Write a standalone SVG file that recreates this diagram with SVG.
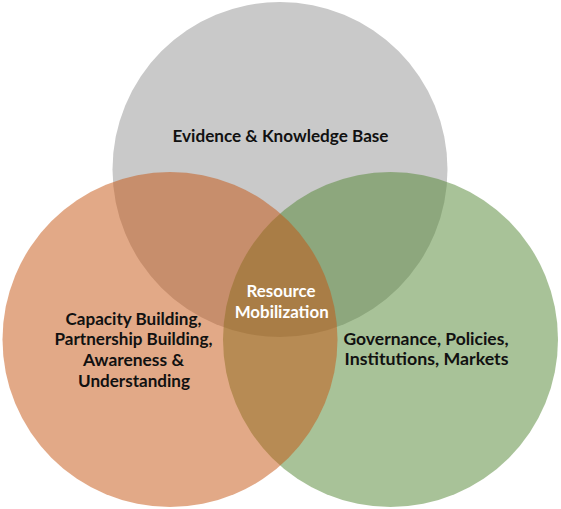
<svg xmlns="http://www.w3.org/2000/svg" width="561" height="509" viewBox="0 0 561 509">
  <style>
    .lbl { font-family: Lato, "Open Sans", "Liberation Sans", sans-serif; font-weight: bold; font-size: 17px; fill: #111111; text-anchor: middle; }
    .center { fill: #ffffff; }
    .circ { fill-opacity: 0.5; }
  </style>
  <rect width="561" height="509" fill="#ffffff"/>
  <g id="evidence">
    <circle cx="280" cy="169.5" r="167.5" fill="#c9c9c9"/>
    <text class="lbl" x="280.5" y="141.5" textLength="216" lengthAdjust="spacingAndGlyphs">Evidence &amp; Knowledge Base</text>
  </g>
  <g id="governance">
    <circle class="circ" cx="390.5" cy="339.5" r="167.5" fill="#518531"/>
    <text class="lbl" x="426" y="345" textLength="165" lengthAdjust="spacingAndGlyphs">Governance, Policies,</text>
    <text class="lbl" x="426.5" y="365" textLength="164" lengthAdjust="spacingAndGlyphs">Institutions, Markets</text>
  </g>
  <g id="capacity">
    <circle class="circ" cx="170" cy="339.5" r="167.5" fill="#c5530f"/>
    <text class="lbl" x="133.5" y="324.5" textLength="136" lengthAdjust="spacingAndGlyphs">Capacity Building,</text>
    <text class="lbl" x="133.5" y="345.3" textLength="158" lengthAdjust="spacingAndGlyphs">Partnership Building,</text>
    <text class="lbl" x="133.5" y="366" textLength="101" lengthAdjust="spacingAndGlyphs">Awareness &amp;</text>
    <text class="lbl" x="134" y="386.7" textLength="112" lengthAdjust="spacingAndGlyphs">Understanding</text>
  </g>
  <g id="resource">
    <text class="lbl center" x="281" y="297" textLength="69" lengthAdjust="spacingAndGlyphs">Resource</text>
    <text class="lbl center" x="281.7" y="318" textLength="94" lengthAdjust="spacingAndGlyphs">Mobilization</text>
  </g>
  <g id="connectors"/>
</svg>
